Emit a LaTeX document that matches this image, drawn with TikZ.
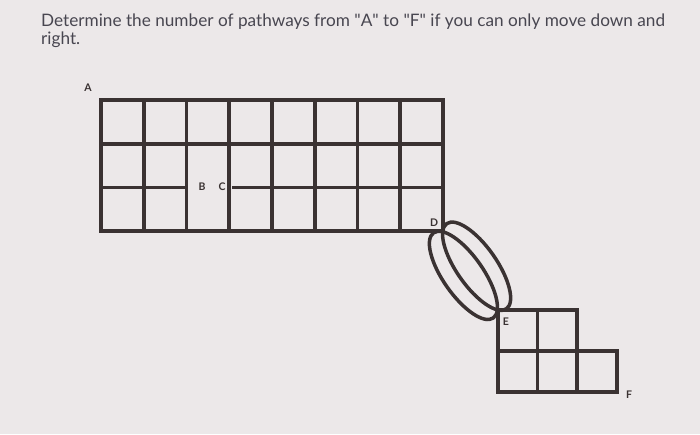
\documentclass[tikz,border=0pt]{standalone}
\usepackage{fontspec}
\setmainfont{Lato}
\definecolor{bgc}{RGB}{236,232,233}
\definecolor{ink}{RGB}{58,50,50}
\definecolor{txt}{RGB}{72,70,80}
\begin{document}
\begin{tikzpicture}[x=1pt,y=-1pt,
  gridline/.style={draw=ink,line width=3.6pt,line cap=rect},
  loopline/.style={draw=ink,line width=3.5pt},
  title/.style={anchor=base west,inner sep=0pt,text=txt,font=\fontsize{17.2}{20}\selectfont},
  lbl/.style={font=\fontsize{10.5}{11}\selectfont\bfseries,text=ink,inner sep=0pt}]
\useasboundingbox[fill=bgc] (0,0) rectangle (700,434);
% title
\node[title] (t1) at (41,26) {Determine the number of pathways from \textquotedbl A\textquotedbl{} to \textquotedbl F\textquotedbl{} if you can only move down and};
\node[title] (t2) at (41,44) {right.};
% main grid 8x3
\foreach \i in {0,...,8} {
  \draw[gridline] ({101+\i*42.75},100) -- ({101+\i*42.75},231);
}
\draw[gridline] (101,100) -- (443,100);
\draw[gridline] (101,143.7) -- (443,143.7);
\draw[gridline] (101,187.3) -- (186.5,187.3);
\draw[gridline] (233.3,187.3) -- (443,187.3);
\draw[gridline] (101,231) -- (443,231);
% labels
\node[lbl] (A) at (88,88) {A};
\node[lbl] (B) at (202,187) {B};
\node[lbl] (C) at (222,187) {C};
\node[lbl] (D) at (434,223) {D};
\node[lbl] (E) at (506,322) {E};
\node[lbl] (F) at (629,395) {F};
% lower grid
\draw[gridline] (498,310) -- (577,310);
\draw[gridline] (498,351) -- (617,351);
\draw[gridline] (498,392) -- (617,392);
\draw[gridline] (498,310) -- (498,392);
\draw[gridline] (537.5,310) -- (537.5,392);
\draw[gridline] (577,310) -- (577,392);
\draw[gridline] (617,351) -- (617,392);
% loops between D and E
\draw[loopline] (463.4,275.4) ellipse[x radius=52, y radius=20, rotate=-55];
\draw[loopline] (476.6,266.2) ellipse[x radius=52, y radius=20, rotate=-55];
\end{tikzpicture}
\end{document}
